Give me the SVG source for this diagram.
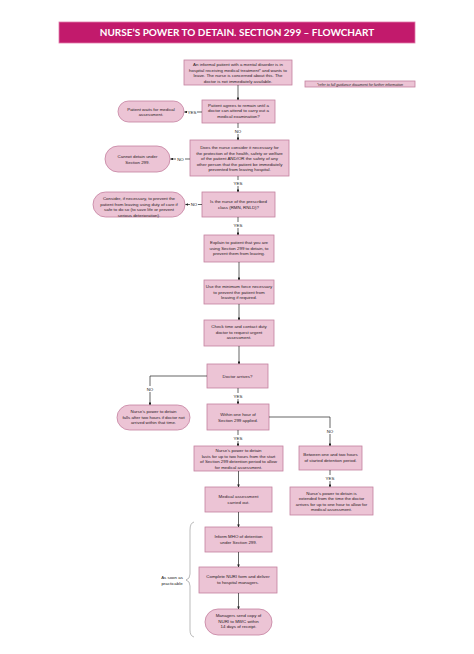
<svg xmlns="http://www.w3.org/2000/svg" width="474" height="654" viewBox="0 0 474 654">
<defs>
<marker id="ah" viewBox="0 0 6 6" refX="5.5" refY="3" markerWidth="4" markerHeight="4" orient="auto">
<path d="M0,0 L6,3 L0,6 z" fill="#222"/>
</marker>
<style>
.b{fill:#ecc4d5;stroke:#c4809f;stroke-width:0.8}
.t{font-family:"Liberation Sans",Arial,sans-serif;font-size:4.4px;fill:#2b1b24;text-anchor:middle}
.l{font-family:"Liberation Sans",Arial,sans-serif;font-size:4.4px;fill:#222;text-anchor:middle}
.c{fill:none;stroke:#222;stroke-width:0.7}
.a{fill:none;stroke:#222;stroke-width:0.7;marker-end:url(#ah)}
</style>
</defs>
<rect width="474" height="654" fill="#fff"/>
<g id="title">
<rect x="59" y="22" width="356" height="21" fill="#c21a6c" stroke="#e07aaa" stroke-width="0.8"/>
<text x="237" y="36" font-family="Lato,'Liberation Sans',sans-serif" font-size="10" font-weight="bold" fill="#fff" text-anchor="middle">NURSE’S POWER TO DETAIN. SECTION 299 – FLOWCHART</text>
</g>
<g id="note">
<rect x="305" y="81" width="110" height="6" class="b" stroke-width="0.4"/>
<text x="360" y="85.5" class="t" font-size="3.6px" font-style="italic" style="font-size:3.6px">*refer to full guidance document for further information</text>
</g>
<g id="n1">
<rect x="184" y="60" width="108" height="25" class="b"/>
<text class="t"><tspan x="238" y="66">An informal patient with a mental disorder is in</tspan><tspan x="238" y="71.5">hospital receiving medical treatment* and wants to</tspan><tspan x="238" y="77">leave. The nurse is concerned about this. The</tspan><tspan x="238" y="82.5">doctor is not immediately available.</tspan></text>
</g>
<g id="n2">
<rect x="202" y="100" width="73" height="23" class="b"/>
<text class="t"><tspan x="238.5" y="106.5">Patient agrees to remain until a</tspan><tspan x="238.5" y="112">doctor can attend to carry out a</tspan><tspan x="238.5" y="117.5">medical examination?</tspan></text>
</g>
<g id="n2a">
<rect x="118" y="101" width="66" height="21" rx="10.5" class="b"/>
<text class="t"><tspan x="151" y="110.5">Patient waits for medical</tspan><tspan x="151" y="116">assessment.</tspan></text>
</g>
<g id="n3">
<rect x="190" y="140" width="99" height="36" class="b"/>
<text class="t"><tspan x="239.5" y="149">Does the nurse consider it necessary for</tspan><tspan x="239.5" y="154.5">the protection of the health, safety or welfare</tspan><tspan x="239.5" y="160">of the patient AND/OR the safety of any</tspan><tspan x="239.5" y="165.5">other person that the patient be immediately</tspan><tspan x="239.5" y="171">prevented from leaving hospital.</tspan></text>
</g>
<g id="n3a">
<rect x="105" y="146" width="65" height="26" rx="13" class="b"/>
<text class="t"><tspan x="137.5" y="158">Cannot detain under</tspan><tspan x="137.5" y="163.5">Section 299.</tspan></text>
</g>
<g id="n4">
<rect x="202" y="192" width="73" height="25" class="b"/>
<text class="t"><tspan x="238.5" y="203">Is the nurse of the prescribed</tspan><tspan x="238.5" y="208.5">class (RMN, RNLD)?</tspan></text>
</g>
<g id="n4a">
<rect x="93" y="192" width="92" height="25" rx="12.5" class="b"/>
<text class="t"><tspan x="139" y="200">Consider, if necessary, to prevent the</tspan><tspan x="139" y="205.5">patient from leaving using duty of care if</tspan><tspan x="139" y="211">safe to do so (to save life or prevent</tspan><tspan x="139" y="216.5">serious deterioration).</tspan></text>
</g>
<g id="n5">
<rect x="204" y="235" width="70" height="27" class="b"/>
<text class="t"><tspan x="239" y="244">Explain to patient that you are</tspan><tspan x="239" y="249.5">using Section 299 to detain, to</tspan><tspan x="239" y="255">prevent them from leaving.</tspan></text>
</g>
<g id="n6">
<rect x="204" y="280" width="70" height="24" class="b"/>
<text class="t"><tspan x="239" y="288">Use the minimum force necessary</tspan><tspan x="239" y="293.5">to prevent the patient from</tspan><tspan x="239" y="299">leaving if required.</tspan></text>
</g>
<g id="n7">
<rect x="204" y="320" width="70" height="26" class="b"/>
<text class="t"><tspan x="239" y="328">Check time and contact duty</tspan><tspan x="239" y="333.5">doctor to request urgent</tspan><tspan x="239" y="339">assessment.</tspan></text>
</g>
<g id="n8">
<rect x="207" y="364" width="61" height="24" class="b"/>
<text class="t" x="237.5" y="377.5">Doctor arrives?</text>
</g>
<g id="n8a">
<rect x="117" y="405" width="73" height="25" rx="12.5" class="b"/>
<text class="t"><tspan x="153.5" y="413">Nurse’s power to detain</tspan><tspan x="153.5" y="418.5">falls after two hours if doctor not</tspan><tspan x="153.5" y="424">arrived within that time.</tspan></text>
</g>
<g id="n9">
<rect x="207" y="404" width="62" height="26" class="b"/>
<text class="t"><tspan x="238" y="416">Within one hour of</tspan><tspan x="238" y="421.5">Section 299 applied.</tspan></text>
</g>
<g id="n10">
<rect x="194" y="446" width="89" height="25" class="b"/>
<text class="t"><tspan x="238.5" y="452">Nurse’s power to detain</tspan><tspan x="238.5" y="457.5">lasts for up to two hours from the start</tspan><tspan x="238.5" y="463">of Section 299 detention period to allow</tspan><tspan x="238.5" y="468.5">for medical assessment.</tspan></text>
</g>
<g id="n11">
<rect x="299" y="446" width="63" height="24" class="b"/>
<text class="t"><tspan x="330.5" y="456">Between one and two hours</tspan><tspan x="330.5" y="461.5">of started detention period.</tspan></text>
</g>
<g id="n12">
<rect x="290" y="487" width="83" height="28" class="b"/>
<text class="t"><tspan x="331.5" y="494.5">Nurse’s power to detain is</tspan><tspan x="331.5" y="500">extended from the time the doctor</tspan><tspan x="331.5" y="505.5">arrives for up to one hour to allow for</tspan><tspan x="331.5" y="511">medical assessment.</tspan></text>
</g>
<g id="n13">
<rect x="205" y="487" width="67" height="25" class="b"/>
<text class="t"><tspan x="238.5" y="498">Medical assessment</tspan><tspan x="238.5" y="503.5">carried out.</tspan></text>
</g>
<g id="n14">
<rect x="205" y="527" width="67" height="25" class="b"/>
<text class="t"><tspan x="238.5" y="538">Inform MHO of detention</tspan><tspan x="238.5" y="543.5">under Section 299.</tspan></text>
</g>
<g id="n15">
<rect x="199" y="567" width="78" height="26" class="b"/>
<text class="t"><tspan x="238" y="578">Complete NURI form and deliver</tspan><tspan x="238" y="583.5">to hospital managers.</tspan></text>
</g>
<g id="n16">
<rect x="205" y="609" width="67" height="26" rx="13" class="b"/>
<text class="t"><tspan x="238.5" y="617">Managers send copy of</tspan><tspan x="238.5" y="622.5">NURI to MWC within</tspan><tspan x="238.5" y="628">14 days of receipt.</tspan></text>
</g>
<g id="brace">
<path d="M194,522 Q190,523 190,530 L190,574 Q190,579 186,580 Q190,581 190,586 L190,630 Q190,636 194,637" fill="none" stroke="#777" stroke-width="0.5"/>
<text class="l"><tspan x="172" y="579">As soon as</tspan><tspan x="172" y="584.5">practicable</tspan></text>
</g>
<g id="connectors">
<line x1="238" y1="85" x2="238" y2="100" class="a"/>
<line x1="202" y1="112" x2="197" y2="112" class="c"/>
<line x1="187" y1="112" x2="184.5" y2="112" class="a"/>
<text class="l" x="192" y="113.5">YES</text>
<line x1="238" y1="123" x2="238" y2="128" class="c"/>
<line x1="238" y1="134" x2="238" y2="140" class="a"/>
<text class="l" x="238" y="133">NO</text>
<line x1="190" y1="159" x2="185" y2="159" class="c"/>
<line x1="176" y1="159" x2="170.5" y2="159" class="a"/>
<text class="l" x="180.5" y="160.5">NO</text>
<line x1="238" y1="176" x2="238" y2="180" class="c"/>
<line x1="238" y1="186" x2="238" y2="192" class="a"/>
<text class="l" x="238" y="184.5">YES</text>
<line x1="202" y1="204.5" x2="198" y2="204.5" class="c"/>
<line x1="190" y1="204.5" x2="185.5" y2="204.5" class="a"/>
<text class="l" x="194" y="206">NO</text>
<line x1="238" y1="217" x2="238" y2="222" class="c"/>
<line x1="238" y1="228" x2="238" y2="235" class="a"/>
<text class="l" x="238" y="226.5">YES</text>
<line x1="239" y1="262" x2="239" y2="280" class="a"/>
<line x1="239" y1="304" x2="239" y2="320" class="a"/>
<line x1="239" y1="346" x2="239" y2="364" class="a"/>
<polyline points="207,376 150,376 150,386" class="c"/>
<line x1="150" y1="392" x2="150" y2="405" class="a"/>
<text class="l" x="150" y="390.5">NO</text>
<line x1="238" y1="388" x2="238" y2="393" class="c"/>
<line x1="238" y1="399" x2="238" y2="404" class="a"/>
<text class="l" x="238" y="397.5">YES</text>
<polyline points="269,417 330,417 330,428" class="c"/>
<line x1="330" y1="434" x2="330" y2="446" class="a"/>
<text class="l" x="330" y="432.5">NO</text>
<line x1="238" y1="430" x2="238" y2="435" class="c"/>
<line x1="238" y1="441" x2="238" y2="446" class="a"/>
<text class="l" x="238" y="439.5">YES</text>
<line x1="330" y1="470" x2="330" y2="475" class="c"/>
<line x1="330" y1="481" x2="330" y2="487" class="a"/>
<text class="l" x="330" y="479.5">YES</text>
<line x1="238.5" y1="471" x2="238.5" y2="487" class="a"/>
<line x1="238.5" y1="512" x2="238.5" y2="527" class="a"/>
<line x1="238.5" y1="552" x2="238.5" y2="567" class="a"/>
<line x1="238.5" y1="593" x2="238.5" y2="609" class="a"/>
</g>
</svg>
